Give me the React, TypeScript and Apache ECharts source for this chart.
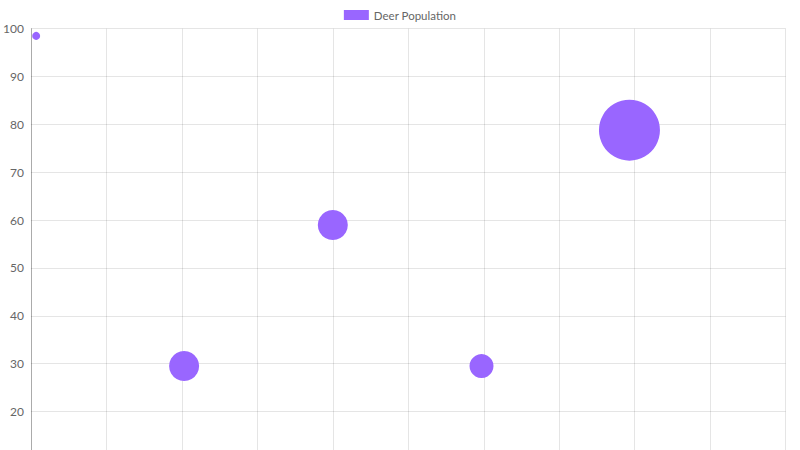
import React, { useEffect, useRef } from "react";
import * as echarts from "echarts";

const seriesName = "Deer Population";
const xValues = [0.7, 20.3, 40.0, 59.7, 79.3];
const yValues = [98.5, 29.5, 59.0, 29.5, 78.8];
const radii = [4, 15, 15, 12, 30.5];
const yTicks = { min: 10, max: 100, interval: 10 };
const xTicks = { min: 0, max: 100, interval: 10 };

export default function App() {
  const ref = useRef<HTMLDivElement>(null);
  useEffect(() => {
    if (!ref.current) return;
    const chart = echarts.init(ref.current, undefined, { renderer: "svg" });
    const data = xValues.map((x, i) => [x, yValues[i], radii[i]]);
    chart.setOption({
      animation: false,
      textStyle: { fontFamily: "Lato" },
      legend: {
        top: 4,
        left: "center",
        icon: "rect",
        itemWidth: 25,
        itemHeight: 10,
        itemGap: 10,
        textStyle: { color: "#666", fontSize: 11.5, fontFamily: "Lato" },
        data: [seriesName],
      },
      grid: { left: 28.7, right: 14.3, top: 28.7, bottom: 40.6, containLabel: false },
      xAxis: {
        type: "value",
        min: xTicks.min,
        max: xTicks.max,
        interval: xTicks.interval,
        axisLine: { show: false },
        axisTick: { show: false },
        axisLabel: { show: false },
        splitLine: { show: true, lineStyle: { color: "rgba(0,0,0,0.1)", width: 1 } },
      },
      yAxis: {
        type: "value",
        min: yTicks.min,
        max: yTicks.max,
        interval: yTicks.interval,
        axisLine: { show: true, lineStyle: { color: "rgba(0,0,0,0.25)", width: 1 } },
        axisTick: { show: false },
        axisLabel: { color: "#666", fontSize: 12, fontFamily: "Lato", margin: 7, showMinLabel: false },
        splitLine: { show: true, lineStyle: { color: "rgba(0,0,0,0.1)", width: 1 } },
      },
      series: [
        {
          name: seriesName,
          type: "scatter",
          data,
          symbolSize: (d: number[]) => d[2] * 2,
          itemStyle: { color: "#9966FF", opacity: 1 },
        },
      ],
    });
    return () => chart.dispose();
  }, []);
  return (
    <div style={{ position: "absolute", left: 0, top: 0, width: 800, height: 450, overflow: "hidden", background: "#fff" }}>
      <div ref={ref} style={{ width: 800, height: 500 }} />
    </div>
  );
}
